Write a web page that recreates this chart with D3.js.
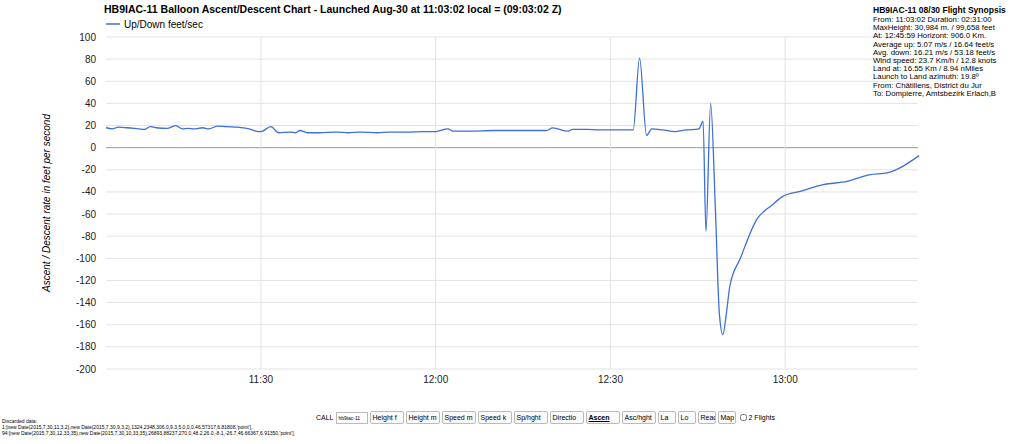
<!DOCTYPE html>
<html><head><meta charset="utf-8">
<script src="https://cdn.jsdelivr.net/npm/d3@7"></script>
<style>
body{margin:0;background:#fff;font-family:Arial,"Liberation Sans",sans-serif;}
#ctl{position:absolute;left:316px;top:411px;font-size:7px;display:flex;align-items:center;gap:2px;}
#ctl span.b{border:1px solid #bbb;border-radius:2px;padding:2px 2px;background:#fafafa;width:28px;overflow:hidden;white-space:nowrap;display:inline-block}
#disc{position:absolute;left:2px;top:418px;font-size:5px;line-height:6px;}
</style></head><body>
<svg id="c" width="1024" height="405" style="position:absolute;left:0;top:0"></svg>
<div id="ctl"><span>CALL</span><span style="border:1px solid #bbb;width:26px;font-size:5px;padding:2px">hb9iac-11</span></div>
<div id="disc">Discarded data:<br>1:[new Date(2015,7,30,11,3,2),new Date(2015,7,30,9,3,2),1324,2348,306,0,9,3,5,0,0,0,46.57317,6.81808,'point'],<br>94:[new Date(2015,7,30,12,33,35),new Date(2015,7,30,10,33,35),26893,88237,270,0,48.2,26.0,-8.1,-26.7,46.66367,6.91350,'point'],</div>
<script>
// minutes after 11:00 local
const minutes=[3.4,4.5,5.5,7,9,10,11,12,14,15.4,16.5,17.5,18.5,20,21,22.6,24,26,28,29.1,30,31.7,33,35,36,36.7,38,40,43,45,47,50,52,55,58,60,62.1,63,66,70,73,76,79,80.1,82.7,83.5,86,88,90,93.9,95,96.2,97.1,99,101,103,105.2,105.9,106.4,107.2,108,108.7,109.3,109.9,110.5,112.3,115.1,117.7,119.6,122.6,126.5,130.6,134.6,137.5,143];
const values=[18,17,18.5,18,17,16.5,19,18,17.5,20,17,17.5,17,18,17,19.5,19,18.5,17,15,14.5,19,13.5,14,13.5,15.5,13.5,13.5,14,13.5,14,13.5,14,14,14.5,14.5,17,15,15,15.5,15.5,15.5,15.5,17.8,15,16.5,16.5,16,16,16,81,11,17,16,14.5,16,17,24,-75.6,40,-53,-150,-169,-150,-125,-100,-65,-52,-44,-39.5,-33.5,-30.4,-24.4,-22.7,-7.2];
const yTicks=[100,80,60,40,20,0,-20,-40,-60,-80,-100,-120,-140,-160,-180,-200];
const xTickLabels=["11:30","12:00","12:30","13:00"];
const buttons=["Height f","Height m","Speed m","Speed k","Sp/hght","Directio","Ascen","Asc/hght","La","Lo","Reac","Map"];
const synopsis=["From: 11:03:02 Duration: 02:31:00","MaxHeight: 30,984 m. / 99,658 feet","At: 12:45:59  Horizont: 906.0 Km.","Average up: 5.07 m/s / 16.64 feet/s","Avg. down: 16.21 m/s / 53.18 feet/s","Wind speed: 23.7 Km/h / 12.8 knots","Land at: 16.55 Km / 8.94 nMiles","Launch to Land azimuth: 19.8º","From: Châtillens, District du Jur","To: Dompierre, Amtsbezirk Erlach,B"];

const base=new Date(2015,7,30,11,0,0);
const T=m=>new Date(+base+m*60000);
const data=minutes.map((m,i)=>({t:T(m),v:values[i]}));
const svg=d3.select("#c");
const x=d3.scaleTime().domain([T(3.4),T(142.8)]).range([106,918]);
const y=d3.scaleLinear().domain([-200,100]).range([369,37]);
const g=svg.append("g");
yTicks.forEach(v=>{
 g.append("line").attr("x1",106).attr("x2",918).attr("y1",y(v)).attr("y2",y(v)).attr("stroke",v===0?"#999":"#e3e3e3").attr("stroke-width",1);
 g.append("text").attr("x",96).attr("y",y(v)+3.5).attr("text-anchor","end").attr("font-size",10).attr("fill","#222").text(v);
});
xTickLabels.forEach(s=>{
 const [h,m]=s.split(":").map(Number);const d=new Date(2015,7,30,h,m);
 g.append("line").attr("x1",x(d)).attr("x2",x(d)).attr("y1",37).attr("y2",369).attr("stroke","#e3e3e3");
 g.append("text").attr("x",x(d)).attr("y",383).attr("text-anchor","middle").attr("font-size",10).attr("fill","#222").text(s);
});
g.append("path").datum(data).attr("fill","none").attr("stroke","#3f6fd8").attr("stroke-width",1.3)
 .attr("d",d3.line().x(d=>x(d.t)).y(d=>y(d.v)).curve(d3.curveMonotoneX));
svg.append("text").attr("x",104).attr("y",13).attr("font-size",10.5).attr("font-weight","bold").text("HB9IAC-11 Balloon Ascent/Descent Chart - Launched Aug-30 at 11:03:02 local = (09:03:02 Z)");
svg.append("line").attr("x1",106).attr("x2",120).attr("y1",24).attr("y2",24).attr("stroke","#3f6fd8").attr("stroke-width",1.5);
svg.append("text").attr("x",124).attr("y",27.5).attr("font-size",10).text("Up/Down feet/sec");
svg.append("text").attr("transform","translate(50,203) rotate(-90)").attr("text-anchor","middle").attr("font-size",10).attr("font-style","italic").text("Ascent / Descent rate in feet per second");
svg.append("text").attr("x",873).attr("y",13).attr("font-size",8.5).attr("font-weight","bold").text("HB9IAC-11 08/30 Flight Synopsis");
synopsis.forEach((s,i)=>svg.append("text").attr("x",873).attr("y",22+i*8.2).attr("font-size",7.8).text(s));
const ctl=d3.select("#ctl");
buttons.forEach(b=>ctl.append("span").attr("class","b").style("width",b.length<=4?"12px":"28px")
 .style("font-weight",b==="Ascen"?"bold":null).style("text-decoration",b==="Ascen"?"underline":null).text(b));
ctl.append("span").html('<input type="checkbox" style="width:7px;height:7px;margin:0 2px;vertical-align:middle">2 Flights');
</script></body></html>
